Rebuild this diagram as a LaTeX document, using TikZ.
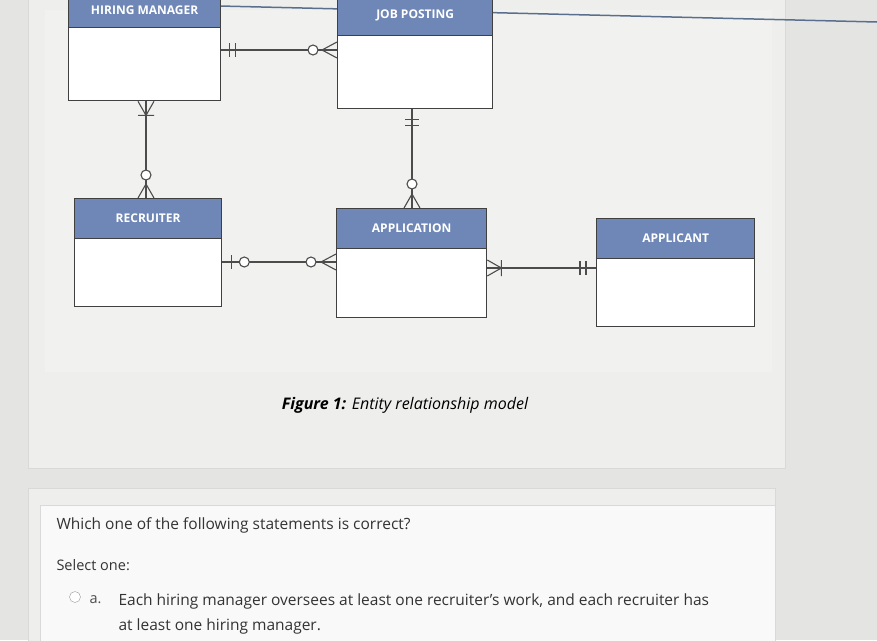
\documentclass[tikz,border=0pt]{standalone}
\usepackage{fontspec}
\setmainfont{Open Sans}
\usetikzlibrary{calc}
\begin{document}
\begin{tikzpicture}[x=1pt,y=-1pt,
  ent/.style={draw=black!75,line width=1.3pt,fill=white,inner sep=0,anchor=north west},
  hdr/.style={draw=black!75,line width=1.3pt,fill=hdrblue,anchor=north west,text=white,font=\bfseries\fontsize{12}{14}\selectfont,inner sep=0},
  rel/.style={draw=black!70,line width=1.1pt},
  ring/.style={draw=black!70,line width=1.1pt,fill=white}]
\definecolor{hdrblue}{HTML}{6F87B6}
\definecolor{bg}{HTML}{E4E5E3}
\definecolor{card}{HTML}{EEEFED}
\definecolor{grid}{HTML}{F1F1EF}
\definecolor{topline}{HTML}{5A6F8E}
\clip (0,0) rectangle (877,640);
\useasboundingbox (0,0) rectangle (877,640);
\fill[bg] (0,0) rectangle (877,640);
\fill[card,draw=black!15] (28,-5) rectangle (785,468);
\fill[grid] (45,10) rectangle (772,372);
\draw[topline,line width=1.5pt] (220,6) -- (877,22);
\fill[card,draw=black!15] (28,488) rectangle (775,645);
\fill[white!60!card,draw=black!15] (40,505) rectangle (775,645);
% entities
\node[ent,minimum width=152,minimum height=108] (hm) at (68,-8) {};
\node[hdr,minimum width=152,minimum height=35] (hmh) at (68,-8) {HIRING MANAGER};
\node[ent,minimum width=155,minimum height=113] (jp) at (337,-5) {};
\node[hdr,minimum width=155,minimum height=40] (jph) at (337,-5) {JOB POSTING};
\node[ent,minimum width=147,minimum height=108] (rc) at (74,198) {};
\node[hdr,minimum width=147,minimum height=40] (rch) at (74,198) {RECRUITER};
\node[ent,minimum width=150,minimum height=109] (ap) at (336,208) {};
\node[hdr,minimum width=150,minimum height=40] (aph) at (336,208) {APPLICATION};
\node[ent,minimum width=158,minimum height=108] (at) at (596,218) {};
\node[hdr,minimum width=158,minimum height=40] (ath) at (596,218) {APPLICANT};
% HM - JP
\coordinate (a1) at (hm.east |- 0,50); \coordinate (a2) at (jp.west |- 0,50);
\draw[rel] (a1) -- (a2);
\draw[rel] ($(a1)+(8,-7)$) -- ++(0,14) ($(a1)+(14,-7)$) -- ++(0,14);
\draw[rel] ($(a2)+(-15,0)$) -- ++(15,-8) ($(a2)+(-15,0)$) -- ++(15,8);
\draw[ring] ($(a2)+(-24,0)$) circle (5);
% HM - RC
\coordinate (b1) at (146,0 |- hm.south); \coordinate (b2) at (146,0 |- rc.north);
\draw[rel] (b1) -- (b2);
\draw[rel] ($(b1)+(0,14)$) -- ++(-8,-14) ($(b1)+(0,14)$) -- ++(8,-14) ($(b1)+(-8,14)$) -- ++(16,0);
\draw[rel] ($(b2)+(0,-14)$) -- ++(-8,14) ($(b2)+(0,-14)$) -- ++(8,14);
\draw[ring] ($(b2)+(0,-23)$) circle (5);
% JP - AP
\coordinate (c1) at (412,0 |- jp.south); \coordinate (c2) at (412,0 |- ap.north);
\draw[rel] (c1) -- (c2);
\draw[rel] ($(c1)+(-7,10)$) -- ++(14,0) ($(c1)+(-7,16)$) -- ++(14,0);
\draw[rel] ($(c2)+(0,-14)$) -- ++(-8,14) ($(c2)+(0,-14)$) -- ++(8,14);
\draw[ring] ($(c2)+(0,-24)$) circle (5);
% RC - AP
\coordinate (d1) at (rc.east |- 0,262); \coordinate (d2) at (ap.west |- 0,262);
\draw[rel] (d1) -- (d2);
\draw[rel] ($(d1)+(9,-7)$) -- ++(0,14);
\draw[ring] ($(d1)+(22,0)$) circle (5);
\draw[rel] ($(d2)+(-15,0)$) -- ++(15,-8) ($(d2)+(-15,0)$) -- ++(15,8);
\draw[ring] ($(d2)+(-25,0)$) circle (5);
% AP - AT
\coordinate (e1) at (ap.east |- 0,268); \coordinate (e2) at (at.west |- 0,268);
\draw[rel] (e1) -- (e2);
\draw[rel] ($(e1)+(14,0)$) -- ++(-14,-8) ($(e1)+(14,0)$) -- ++(-14,8) ($(e1)+(14,-8)$) -- ++(0,16);
\draw[rel] ($(e2)+(-16,-7)$) -- ++(0,14) ($(e2)+(-10,-7)$) -- ++(0,14);
% caption
\node[font=\itshape\fontsize{16}{19}\selectfont] (cap) at (405,405) {\textbf{Figure 1:} Entity relationship model};
% question
\node[anchor=west,font=\fontsize{15.5}{18}\selectfont,text=black!80] (q) at (53,525) {Which one of the following statements is correct?};
\node[anchor=west,font=\fontsize{14.5}{17}\selectfont,text=black!80] (s) at (53,565) {Select one:};
\node[draw=black!40,circle,minimum size=11,inner sep=0,fill=white] (r) at (75,597) {};
\node[anchor=west,font=\fontsize{14.5}{17}\selectfont,text=black!70] (la) at (86,600) {a.};
\node[anchor=north west,align=left,font=\fontsize{15.5}{25}\selectfont,text=black!80] (ta) at (115,590) {Each hiring manager oversees at least one recruiter's work, and each recruiter has\\at least one hiring manager.};
\end{tikzpicture}
\end{document}
